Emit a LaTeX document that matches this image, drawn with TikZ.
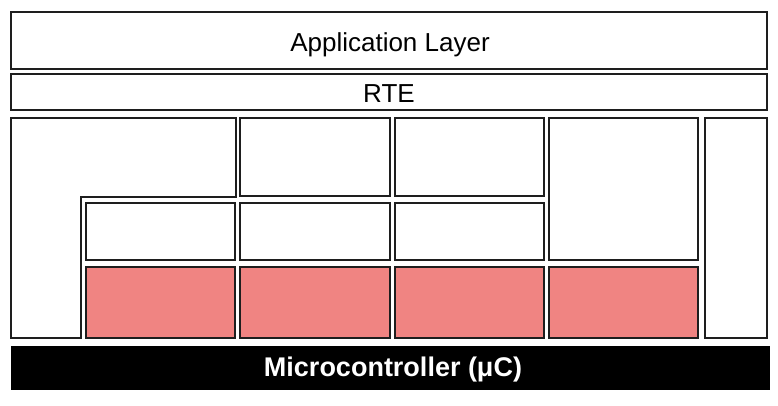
\documentclass[tikz,border=0pt]{standalone}
\usepackage{fontspec}
\setmainfont{Liberation Sans}
\definecolor{redfill}{RGB}{240,132,130}
\definecolor{edge}{RGB}{30,30,30}
\tikzset{
  box/.style={draw=edge, line width=1.4pt, fill=white, inner sep=0pt, outer sep=0pt, anchor=north west},
  redbox/.style={box, fill=redfill},
  lbl/.style={font=\fontsize{26}{30}\selectfont, inner sep=0pt, anchor=base},
}
\begin{document}
\begin{tikzpicture}[x=1pt,y=-1pt]
\useasboundingbox (0,0) rectangle (778,406);
% top layers
\node[box, minimum width=756pt, minimum height=57pt] (app) at (11,12) {};
\node[lbl] (applbl) at (390,52) {Application Layer};
\node[box, minimum width=756pt, minimum height=36pt] (rte) at (11,74) {};
\node[lbl] (rtelbl) at (389,103) {RTE};
% L-shaped block
\draw[draw=edge, line width=1.4pt, fill=white] (11,118) -- (236,118) -- (236,197) -- (81,197) -- (81,338) -- (11,338) -- cycle;
% column 1
\node[box, minimum width=149pt, minimum height=57pt] (c1m) at (86,203) {};
\node[redbox, minimum width=149pt, minimum height=71pt] (c1r) at (86,267) {};
% column 2
\node[box, minimum width=150pt, minimum height=78pt] (c2t) at (240,118) {};
\node[box, minimum width=150pt, minimum height=57pt] (c2m) at (240,203) {};
\node[redbox, minimum width=150pt, minimum height=71pt] (c2r) at (240,267) {};
% column 3
\node[box, minimum width=149pt, minimum height=78pt] (c3t) at (395,118) {};
\node[box, minimum width=149pt, minimum height=57pt] (c3m) at (395,203) {};
\node[redbox, minimum width=149pt, minimum height=71pt] (c3r) at (395,267) {};
% column 4
\node[box, minimum width=149pt, minimum height=142pt] (c4t) at (549,118) {};
\node[redbox, minimum width=149pt, minimum height=71pt] (c4r) at (549,267) {};
% right column
\node[box, minimum width=62pt, minimum height=220pt] (rc) at (705,118) {};
% microcontroller
\node[fill=black, draw=black, line width=0.5pt, inner sep=0pt, outer sep=0pt, anchor=north west, minimum width=758pt, minimum height=43pt] (mcu) at (11,346) {};
\node[lbl, text=white, font=\bfseries\fontsize{27}{31}\selectfont] (mculbl) at (393,376) {Microcontroller (μC)};
\end{tikzpicture}
\end{document}
